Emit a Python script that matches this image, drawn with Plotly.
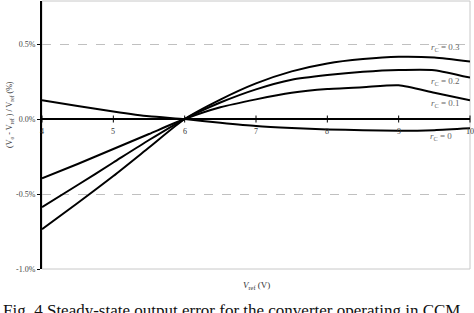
import plotly.graph_objects as go

v_ref = [4, 4.5, 5, 5.5, 6, 6.5, 7, 7.5, 8, 8.5, 9, 9.5, 10]
err_rc0 = [0.125, 0.087, 0.05, 0.018, 0.0, -0.025, -0.047, -0.06, -0.069, -0.075, -0.078, -0.074, -0.062]
err_rc01 = [-0.395, -0.30, -0.20, -0.10, 0.0, 0.078, 0.131, 0.175, 0.200, 0.212, 0.225, 0.175, 0.125]
err_rc02 = [-0.587, -0.44, -0.29, -0.14, 0.0, 0.11, 0.198, 0.262, 0.293, 0.315, 0.327, 0.326, 0.276]
err_rc03 = [-0.735, -0.56, -0.38, -0.19, 0.0, 0.13, 0.238, 0.318, 0.371, 0.40, 0.415, 0.41, 0.383]

series = [("0", err_rc0), ("0.1", err_rc01), ("0.2", err_rc02), ("0.3", err_rc03)]
label_pos = {"0.3": (9.65, 0.475), "0.2": (9.65, 0.249), "0.1": (9.65, 0.102), "0": (9.6, -0.118)}

x_ticks = [4, 5, 6, 7, 8, 9, 10]
y_ticks = [-1.0, -0.5, 0.0, 0.5]

serif = "Liberation Serif"
fig = go.Figure()

for name, ys in series:
    fig.add_trace(go.Scatter(x=v_ref, y=ys, mode="lines",
                             line=dict(color="black", width=2, shape="spline", smoothing=0.6),
                             showlegend=False, hoverinfo="skip"))

# tick marks on the zero line
fig.add_trace(go.Scatter(x=x_ticks, y=[0] * len(x_ticks), mode="markers",
                         marker=dict(symbol="line-ns-open", size=5, color="black",
                                     line=dict(color="black", width=1)),
                         showlegend=False, hoverinfo="skip", cliponaxis=False))

annotations = []
for xt in x_ticks:
    annotations.append(dict(x=xt, y=0, xref="x", yref="y", text=str(xt), showarrow=False,
                            yshift=-12, font=dict(family=serif, size=8, color="#333")))
for name, ys in series:
    lx, ly = label_pos[name]
    annotations.append(dict(x=lx, y=ly, xref="x", yref="y", text="<i>r</i><sub>C</sub> = " + name,
                            showarrow=False, font=dict(family=serif, size=9, color="#666")))

annotations.append(dict(x=0.5, y=(269 - 285) / 268, xref="paper", yref="paper",
                        xanchor="center", yanchor="middle",
                        text="<i>V</i><sub>ref</sub> (V)", showarrow=False,
                        font=dict(family=serif, size=9, color="#333")))
annotations.append(dict(x=(10 - 42) / 428, y=(269 - 115) / 268, xref="paper", yref="paper",
                        xanchor="center", yanchor="middle",
                        text="(V<sub>o</sub> - V<sub>ref</sub> ) / V<sub>ref</sub> (%)",
                        textangle=-90, showarrow=False, font=dict(family=serif, size=8, color="#333")))
annotations.append(dict(x=(1 - 42) / 428, y=(269 - 299) / 268, xref="paper", yref="paper",
                        text="Fig. 4 Steady-state output error for the converter operating in CCM.",
                        showarrow=False, xanchor="left", yanchor="top",
                        font=dict(family=serif, size=17, color="#111")))

fig.update_layout(
    width=474, height=313,
    margin=dict(l=42, r=4, t=1, b=44),
    paper_bgcolor="white", plot_bgcolor="white",
    xaxis=dict(range=[4, 10], showgrid=False, showticklabels=False, showline=False, zeroline=False, ticks=""),
    yaxis=dict(range=[-1.0, 0.787], tickvals=y_ticks, ticktext=["-1.0%", "-0.5%", "0.0%", "0.5%"],
               showgrid=True, gridcolor="#c0c0c0", griddash="dash", gridwidth=1,
               zeroline=True, zerolinecolor="black", zerolinewidth=2,
               showline=True, linecolor="black", linewidth=2,
               ticks="outside", ticklen=3, tickcolor="black",
               tickfont=dict(family=serif, size=8, color="#444")),
    shapes=[dict(type="rect", xref="paper", yref="paper", x0=0, x1=1, y0=0, y1=1,
                 line=dict(color="#c8c8c8", width=1), layer="below")],
    annotations=annotations,
)

fig.write_html("out.html")
